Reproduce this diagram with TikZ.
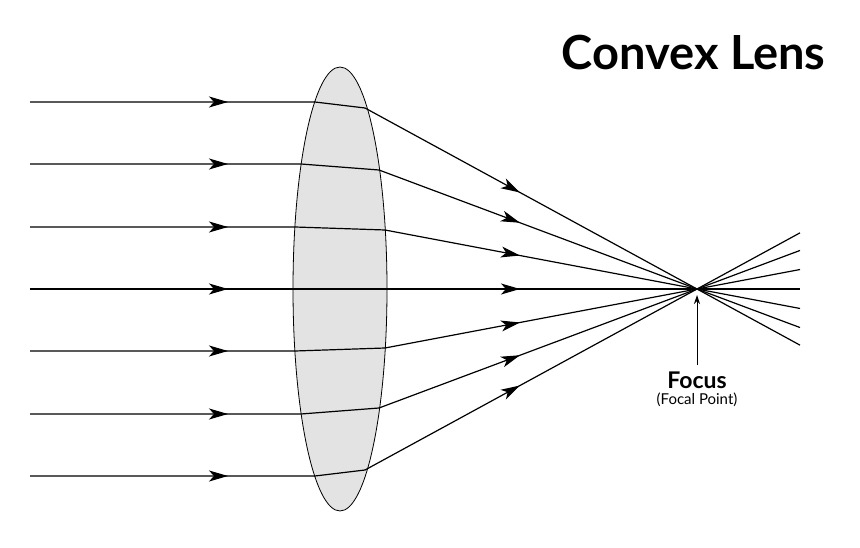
\documentclass[tikz,border=0pt]{standalone}
\usepackage{fontspec}
\setmainfont{Lato}
\usetikzlibrary{arrows.meta,decorations.markings,calc}
\tikzset{ray/.style={line width=1.2pt,black},
 arr/.style={postaction={decorate},decoration={markings,mark=at position #1 with {\arrow{Stealth[length=19pt,width=11pt,inset=5pt]}}}}}
\begin{document}
\begin{tikzpicture}[x=1pt,y=-1pt]
\useasboundingbox[fill=white] (0,0) rectangle (860,548);
\draw[fill=black!11,line width=0.8pt] (340,289) ellipse [x radius=47,y radius=222];
\coordinate (F) at (697,289);
\foreach \y/\xi/\yb/\xe in {102/315/108/365,164/301/170/379,227/295/230/385,289/293/289/387,351/295/348/385,414/301/408/379,476/315/470/365}{
 \draw[ray,arr=198pt] (30,\y) -- (\xi,\y) -- (\xe,\yb);
 \pgfmathsetmacro\t{(800-\xe)/(697-\xe)}
 \pgfmathsetmacro\p{(520-\xe)/(800-\xe)}
 \draw[ray,arr=\p] (\xe,\yb) -- ($(\xe,\yb)!\t!(F)$);
}
\node[font=\bfseries\fontsize{47}{47}\selectfont,anchor=base east] (title) at (829,70) {Convex Lens};
\node[font=\bfseries\fontsize{23}{23}\selectfont,anchor=base] (focus) at (697,388) {Focus};
\node[font=\fontsize{15}{15}\selectfont,anchor=base] (fp) at (697,404) {(Focal Point)};
\draw[line width=1pt,-{Stealth[length=9pt,width=6pt]}] (697,365) -- ([yshift=-6pt]F);
\end{tikzpicture}
\end{document}
